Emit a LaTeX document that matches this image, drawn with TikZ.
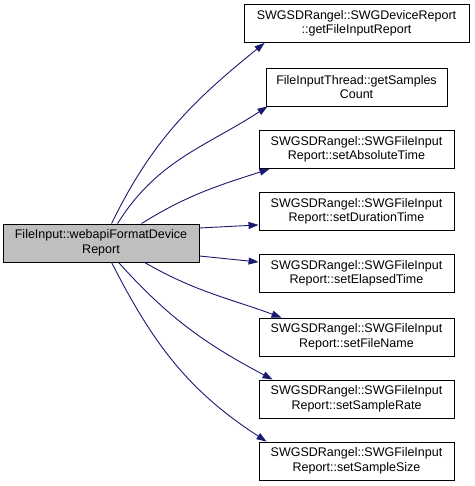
\documentclass[tikz,border=0pt]{standalone}
\usepackage{fontspec}
\setmainfont{Liberation Sans}
\usetikzlibrary{arrows.meta}
\definecolor{edgeblue}{HTML}{191970}
\definecolor{srcgray}{HTML}{BFBFBF}
\tikzset{
  fnbox/.style={draw=black, line width=0.9pt, fill=white, align=center,
    minimum height=38pt, inner sep=1pt,
    font=\fontsize{12.5pt}{14.5pt}\selectfont},
  srcbox/.style={fnbox, fill=srcgray},
  call/.style={draw=edgeblue, line width=0.9pt,
    -{Triangle[length=10pt,width=7pt]}}
}
\begin{document}
\begin{tikzpicture}[x=1pt,y=1pt]
\useasboundingbox (0,0) rectangle (474,486);
\node[srcbox, minimum width=196pt] (src) at (101,243) {FileInput::webapiFormatDevice\\Report};
\node[fnbox, minimum width=225pt] (t1) at (356.5,462.5) {SWGSDRangel::SWGDeviceReport\\::getFileInputReport};
\node[fnbox, minimum width=181pt] (t2) at (356.5,399) {FileInputThread::getSamples\\Count};
\node[fnbox, minimum width=195pt] (t3) at (356.5,336.5) {SWGSDRangel::SWGFileInput\\Report::setAbsoluteTime};
\node[fnbox, minimum width=195pt] (t4) at (356.5,274.5) {SWGSDRangel::SWGFileInput\\Report::setDurationTime};
\node[fnbox, minimum width=195pt] (t5) at (356.5,212.5) {SWGSDRangel::SWGFileInput\\Report::setElapsedTime};
\node[fnbox, minimum width=195pt] (t6) at (356.5,149) {SWGSDRangel::SWGFileInput\\Report::setFileName};
\node[fnbox, minimum width=195pt] (t7) at (356.5,87) {SWGSDRangel::SWGFileInput\\Report::setSampleRate};
\node[fnbox, minimum width=195pt] (t8) at (356.5,25) {SWGSDRangel::SWGFileInput\\Report::setSampleSize};

\draw[call] ([xshift=109pt]src.north west) to[out=64,in=219] ([xshift=21pt]t1.south west);
\draw[call] ([xshift=115pt]src.north west) to[out=58,in=213] ([xshift=2pt]t2.south west);
\draw[call] ([xshift=139pt]src.north west) to[out=32,in=198] ([xshift=11pt]t3.south west);
\draw[call] ([yshift=15pt]src.east) -- ([yshift=6pt]t4.south west);
\draw[call] ([yshift=-13pt]src.east) -- ([yshift=-8pt]t5.north west);
\draw[call] ([xshift=142pt]src.south west) to[out=-30,in=160] ([xshift=23pt]t6.north west);
\draw[call] ([xshift=116pt]src.south west) to[out=-48,in=152] ([xshift=14pt]t7.north west);
\draw[call] ([xshift=109pt]src.south west) to[out=-63,in=147] ([xshift=8pt]t8.north west);
\end{tikzpicture}
\end{document}
